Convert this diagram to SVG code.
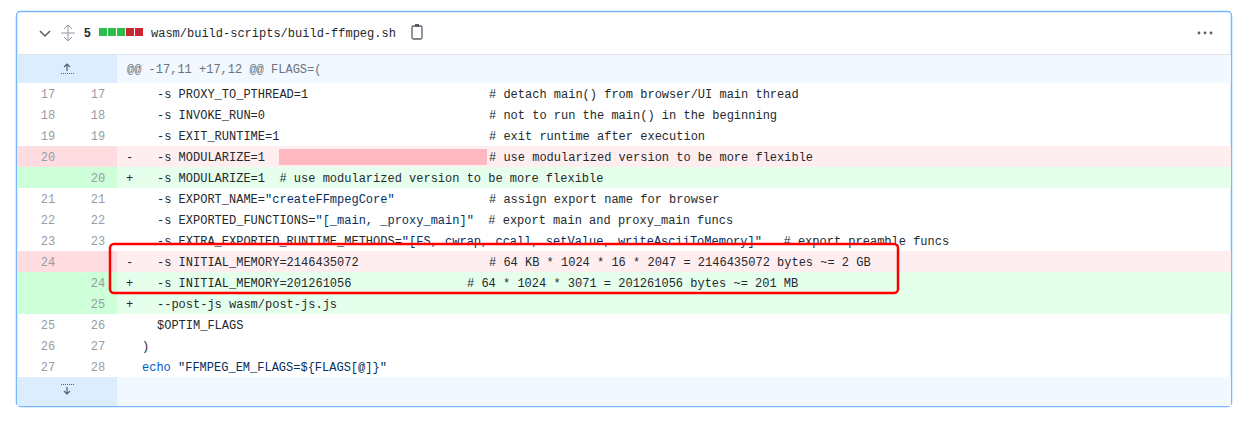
<svg xmlns="http://www.w3.org/2000/svg" width="1247" height="422" viewBox="0 0 1247 422">
<style>
.m{font-family:"Liberation Mono","DejaVu Sans Mono",monospace;font-size:12px;fill:#24292e;white-space:pre}
.n{font-family:"Liberation Mono","DejaVu Sans Mono",monospace;font-size:12px;fill:#959da5;text-anchor:middle}
.s{fill:#032f62}.k{fill:#005cc5}
</style>
<rect width="1247" height="422" fill="#fff"/>
<rect x="16.5" y="11.5" width="1215" height="395" rx="4" fill="#fff" stroke="#79b8ff" stroke-width="1.5"/>
<g id="header">
<path d="M40 31l5 5 5-5" fill="none" stroke="#586069" stroke-width="1.5"/>
<path d="M68 25v16M64 29l4-4 4 4M64 37l4 4 4-4M61 33h14" fill="none" stroke="#959da5" stroke-width="1"/>
<text x="84" y="37" style="font-family:'Liberation Sans',sans-serif;font-size:12px;font-weight:bold;fill:#24292e">5</text>
<rect x="99" y="28" width="8" height="8" fill="#2cbe4e"/><rect x="108" y="28" width="8" height="8" fill="#2cbe4e"/><rect x="117" y="28" width="8" height="8" fill="#2cbe4e"/><rect x="126" y="28" width="8" height="8" fill="#cb2431"/><rect x="135" y="28" width="8" height="8" fill="#cb2431"/>
<text x="151" y="37" class="m">wasm/build-scripts/build-ffmpeg.sh</text>
<rect x="412" y="26" width="10" height="13" rx="1.5" fill="none" stroke="#586069" stroke-width="1.3"/><rect x="415" y="24" width="4" height="3" fill="#586069"/>
<circle cx="1199" cy="33" r="1.4" fill="#586069"/><circle cx="1205" cy="33" r="1.4" fill="#586069"/><circle cx="1211" cy="33" r="1.4" fill="#586069"/>
<line x1="17" y1="54.5" x2="1231" y2="54.5" stroke="#e1e4e8"/>
</g>
<g id="rows">
<rect x="17" y="55" width="100" height="28" fill="#dbedff"/><rect x="117" y="55" width="1114" height="28" fill="#f1f8ff"/>
<path d="M67 64v7M64 67l3-3 3 3" fill="none" stroke="#586069" stroke-width="1.2"/><line x1="61" y1="73.5" x2="74" y2="73.5" stroke="#586069" stroke-dasharray="1,1"/>
<text x="127" y="73" class="m" style="fill:#6a737d">@@ -17,11 +17,12 @@ FLAGS=(</text>
<rect x="17" y="146" width="100" height="21" fill="#ffdce0"/><rect x="117" y="146" width="1114" height="21" fill="#ffeef0"/>
<rect x="279" y="149" width="208" height="16" fill="#fdb8c0"/>
<rect x="17" y="167" width="100" height="21" fill="#cdffd8"/><rect x="117" y="167" width="1114" height="21" fill="#e6ffed"/>
<rect x="17" y="251" width="100" height="21" fill="#ffdce0"/><rect x="117" y="251" width="1114" height="21" fill="#ffeef0"/>
<rect x="17" y="272" width="100" height="42" fill="#cdffd8"/><rect x="117" y="272" width="1114" height="42" fill="#e6ffed"/>
<rect x="17" y="377" width="100" height="29" fill="#dbedff"/><rect x="117" y="377" width="1114" height="29" fill="#f1f8ff"/>
<line x1="61" y1="384.5" x2="74" y2="384.5" stroke="#586069" stroke-dasharray="1,1"/><path d="M67 387v7M64 391l3 3 3-3" fill="none" stroke="#586069" stroke-width="1.2"/>
<text class="n" x="48" y="98">17</text><text class="n" x="98" y="98">17</text>
<text class="n" x="48" y="119">18</text><text class="n" x="98" y="119">18</text>
<text class="n" x="48" y="140">19</text><text class="n" x="98" y="140">19</text>
<text class="n" x="48" y="161">20</text>
<text class="n" x="98" y="182">20</text>
<text class="n" x="48" y="203">21</text><text class="n" x="98" y="203">21</text>
<text class="n" x="48" y="224">22</text><text class="n" x="98" y="224">22</text>
<text class="n" x="48" y="245">23</text><text class="n" x="98" y="245">23</text>
<text class="n" x="48" y="266">24</text>
<text class="n" x="98" y="287">24</text>
<text class="n" x="98" y="308">25</text>
<text class="n" x="48" y="329">25</text><text class="n" x="98" y="329">26</text>
<text class="n" x="48" y="350">26</text><text class="n" x="98" y="350">27</text>
<text class="n" x="48" y="371">27</text><text class="n" x="98" y="371">28</text>
<text class="m" x="157" y="98">-s PROXY_TO_PTHREAD=1</text><text class="m" x="489" y="98"># detach main() from browser/UI main thread</text>
<text class="m" x="157" y="119">-s INVOKE_RUN=0</text><text class="m" x="489" y="119"># not to run the main() in the beginning</text>
<text class="m" x="157" y="140">-s EXIT_RUNTIME=1</text><text class="m" x="489" y="140"># exit runtime after execution</text>
<text class="m" x="126" y="161">-</text><text class="m" x="157" y="161">-s MODULARIZE=1</text><text class="m" x="489" y="161"># use modularized version to be more flexible</text>
<text class="m" x="126" y="182">+</text><text class="m" x="157" y="182">-s MODULARIZE=1  # use modularized version to be more flexible</text>
<text class="m" x="157" y="203">-s EXPORT_NAME=<tspan class="s">"createFFmpegCore"</tspan></text><text class="m" x="489" y="203"># assign export name for browser</text>
<text class="m" x="157" y="224">-s EXPORTED_FUNCTIONS=<tspan class="s">"[_main, _proxy_main]"</tspan>  # export main and proxy_main funcs</text>
<text class="m" x="157" y="245">-s EXTRA_EXPORTED_RUNTIME_METHODS=<tspan class="s">"[FS, cwrap, ccall, setValue, writeAsciiToMemory]"</tspan>   # export preamble funcs</text>
<text class="m" x="126" y="266">-</text><text class="m" x="157" y="266">-s INITIAL_MEMORY=2146435072</text><text class="m" x="489" y="266"># 64 KB * 1024 * 16 * 2047 = 2146435072 bytes ~= 2 GB</text>
<text class="m" x="126" y="287">+</text><text class="m" x="157" y="287">-s INITIAL_MEMORY=201261056</text><text class="m" x="467" y="287"># 64 * 1024 * 3071 = 201261056 bytes ~= 201 MB</text>
<text class="m" x="126" y="308">+</text><text class="m" x="157" y="308">--post-js wasm/post-js.js</text>
<text class="m" x="157" y="329">$OPTIM_FLAGS</text>
<text class="m" x="142" y="350">)</text>
<text class="m" x="142" y="371"><tspan class="k">echo</tspan> <tspan class="s">"FFMPEG_EM_FLAGS=${FLAGS[@]}"</tspan></text>
</g>
<g id="connectors"></g>
<g id="highlight"><rect x="110" y="244" width="788" height="49" rx="4" fill="none" stroke="#ff0000" stroke-width="2.5"/></g>
</svg>
